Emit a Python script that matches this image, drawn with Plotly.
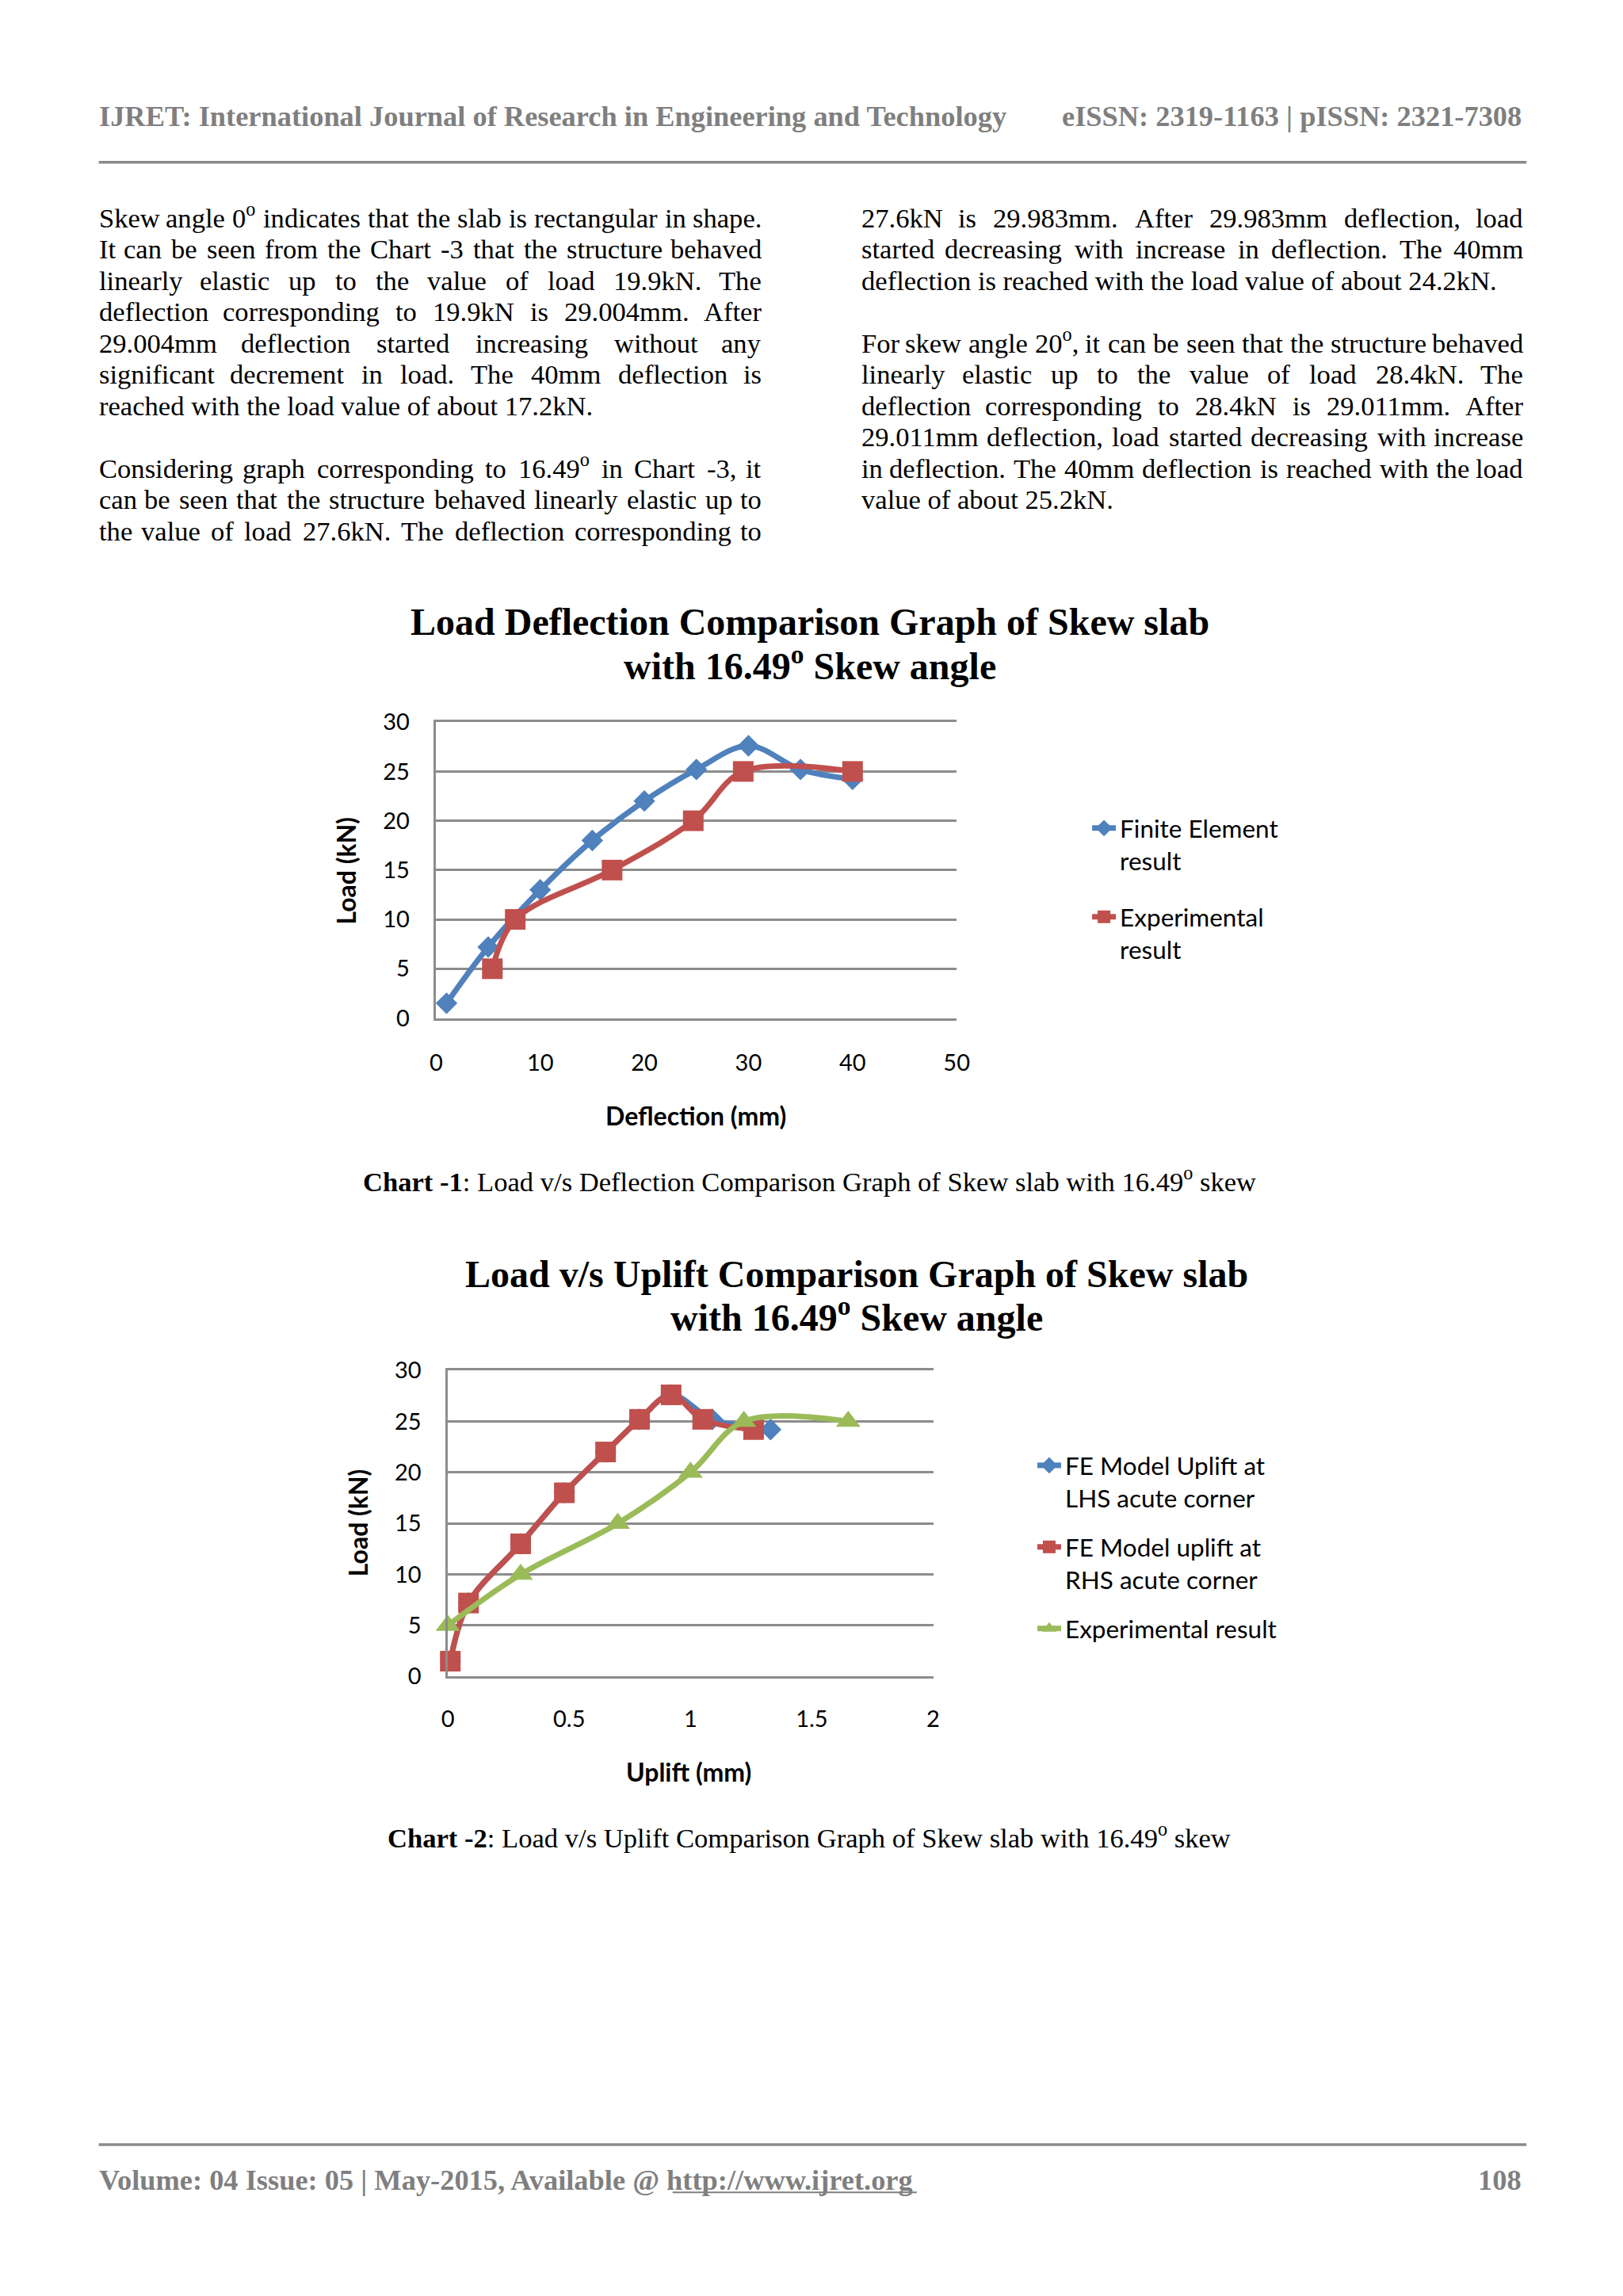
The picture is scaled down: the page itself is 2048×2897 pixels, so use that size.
import plotly.graph_objects as go

# the html page keeps the 8px body margin, so the figure is 16px smaller than the window
W, H = 2032, 2881


def px(x):
    return (x - 8) / W


def py(y):
    return 1 - (y - 8) / H


# ---- Chart -1 : load vs deflection ----
fe_deflection = [1, 5, 10, 15, 20, 25, 30, 35, 40]
fe_load = [1.5, 7.2, 13.0, 18.0, 22.0, 25.2, 27.6, 25.2, 24.2]
exp_deflection = [5.4, 7.6, 16.9, 24.7, 29.5, 40]
exp_load = [5, 10, 15, 20, 25, 25]

# ---- Chart -2 : load vs uplift ----
lhs_uplift = [0.01, 0.085, 0.30, 0.48, 0.65, 0.79, 0.92, 1.09, 1.33]
lhs_load = [1.5, 7.2, 13.0, 18.0, 22.0, 25.2, 27.6, 25.2, 24.2]
rhs_uplift = [0.01, 0.085, 0.30, 0.48, 0.65, 0.79, 0.92, 1.05, 1.26]
rhs_load = [1.5, 7.2, 13.0, 18.0, 22.0, 25.2, 27.6, 25.2, 24.2]
exp_uplift = [0.0, 0.30, 0.70, 1.0, 1.22, 1.65]
exp_uplift_load = [5, 10, 15, 20, 25, 25]

load_ticks = [0, 5, 10, 15, 20, 25, 30]
deflection_ticks = [0, 10, 20, 30, 40, 50]
uplift_ticks = [0, 0.5, 1, 1.5, 2]

# ---- page text ----
left_lines = [
    ("Skew angle 0º indicates that the slab is rectangular in shape.", True),
    ("It can be seen from the Chart -3 that the structure behaved", True),
    ("linearly elastic up to the value of load 19.9kN. The", True),
    ("deflection corresponding to 19.9kN is 29.004mm. After", True),
    ("29.004mm deflection started increasing without any", True),
    ("significant decrement in load. The 40mm deflection is", True),
    ("reached with the load value of about 17.2kN.", False),
    None,
    ("Considering graph corresponding to 16.49º in Chart -3, it", True),
    ("can be seen that the structure behaved linearly elastic up to", True),
    ("the value of load 27.6kN. The deflection corresponding to", True),
]
right_lines = [
    ("27.6kN is 29.983mm. After 29.983mm deflection, load", True),
    ("started decreasing with increase in deflection. The 40mm", True),
    ("deflection is reached with the load value of about 24.2kN.", False),
    None,
    ("For skew angle 20º, it can be seen that the structure behaved", True),
    ("linearly elastic up to the value of load 28.4kN. The", True),
    ("deflection corresponding to 28.4kN is 29.011mm. After", True),
    ("29.011mm deflection, load started decreasing with increase", True),
    ("in deflection. The 40mm deflection is reached with the load", True),
    ("value of about 25.2kN.", False),
]

BLUE = "#4F81BD"
RED = "#C0504D"
GREEN = "#9BBB59"
GRID = "#8C8C8C"
GREY_TEXT = "#7F7F7F"
SERIF = "Liberation Serif"
SANS = "Lato"
BODY = 34.6

# Times advance widths (1/1000 em), used to justify the body text
TIMES_W = {" ": 250, ",": 250, ".": 250, "-": 333, ":": 278, "(": 333, ")": 333, "º": 350,
           "A": 722, "B": 667, "C": 667, "D": 722, "E": 611, "F": 556, "G": 722, "H": 722,
           "I": 333, "J": 389, "K": 722, "L": 611, "M": 889, "N": 722, "O": 722, "P": 556,
           "R": 667, "S": 556, "T": 611, "U": 722, "V": 722, "W": 944,
           "a": 444, "b": 500, "c": 444, "d": 500, "e": 444, "f": 333, "g": 500, "h": 500,
           "i": 278, "j": 278, "k": 500, "l": 278, "m": 778, "n": 500, "o": 500, "p": 500,
           "q": 500, "r": 333, "s": 389, "t": 278, "u": 500, "v": 500, "w": 722, "x": 500,
           "y": 500, "z": 444}


def word_width(w):
    # rendered words come out a little wider than the table says
    return sum(TIMES_W.get(c, 500) for c in w) * BODY / 1000 * 1.012


def markup(s):
    return s.replace("º", "<sup>o</sup>")


annotations = []


def add_text(text, x, y, size, family=SERIF, color="black", xanchor="left", yanchor="middle", angle=0):
    annotations.append(dict(text=text, x=px(x), y=py(y), xref="paper", yref="paper",
                            showarrow=False, xanchor=xanchor, yanchor=yanchor, textangle=angle,
                            font=dict(family=family, size=size, color=color)))


def add_column(lines, x0, x1):
    for i, item in enumerate(lines):
        if item is None:
            continue
        line, justify = item
        ybot = 264 + 40.0 * i + 16
        if not justify:
            add_text(markup(line), x0, ybot, BODY, yanchor="bottom")
            continue
        # justified line: first word on the left edge, last on the right edge,
        # the others centred on their estimated places so width errors spread out
        words = line.split(" ")
        widths = [word_width(w) for w in words]
        gap = (x1 - x0 - sum(widths)) / (len(words) - 1)
        x = x0
        for j, w in enumerate(words):
            if j == 0:
                add_text(markup(w), x0, ybot, BODY, yanchor="bottom")
            elif j == len(words) - 1:
                add_text(markup(w), x1, ybot, BODY, xanchor="right", yanchor="bottom")
            else:
                add_text(markup(w), x + widths[j] / 2, ybot, BODY, xanchor="center", yanchor="bottom")
            x += widths[j] + gap


# header and footer
add_text("<b>IJRET: International Journal of Research in Engineering and Technology</b>",
         116, 129, 36.4, color=GREY_TEXT)
add_text("<b>eISSN: 2319-1163 | pISSN: 2321-7308</b>", 1938, 129, 36.4, color=GREY_TEXT, xanchor="right")
add_text("<b>Volume: 04 Issue: 05 | May-2015, Available @ http://www.ijret.org</b>",
         116, 2765, 36.4, color=GREY_TEXT)
add_text("<b>108</b>", 1938, 2765, 36.4, color=GREY_TEXT, xanchor="right")

add_column(left_lines, 116, 967)
add_column(right_lines, 1090, 1940)

# chart titles
add_text("<b>Load Deflection Comparison Graph of Skew slab</b>", 1027, 804, 48,
         xanchor="center", yanchor="bottom")
add_text("<b>with 16.49<sup>o</sup> Skew angle</b>", 1027, 860, 48, xanchor="center", yanchor="bottom")
add_text("<b>Load v/s Uplift Comparison Graph of Skew slab</b>", 1086, 1637, 48,
         xanchor="center", yanchor="bottom")
add_text("<b>with 16.49<sup>o</sup> Skew angle</b>", 1086, 1692, 48, xanchor="center", yanchor="bottom")

# axis titles
add_text("<b>Load (kN)</b>", 434, 1093, 32, family=SANS, xanchor="center", angle=-90)
add_text("<b>Deflection (mm)</b>", 881, 1405, 32, family=SANS, xanchor="center")
add_text("<b>Load (kN)</b>", 449, 1926, 32, family=SANS, xanchor="center", angle=-90)
add_text("<b>Uplift (mm)</b>", 872, 2244, 32, family=SANS, xanchor="center")

# captions
add_text("<b>Chart -1</b>: Load v/s Deflection Comparison Graph of Skew slab with 16.49<sup>o</sup> skew",
         1026, 1495 + 16, BODY, xanchor="center", yanchor="bottom")
add_text("<b>Chart -2</b>: Load v/s Uplift Comparison Graph of Skew slab with 16.49<sup>o</sup> skew",
         1026, 2333 + 16, BODY, xanchor="center", yanchor="bottom")

line_style = dict(width=7, shape="spline", smoothing=1)

fig = go.Figure()
fig.add_trace(go.Scatter(x=fe_deflection, y=fe_load, mode="lines+markers", name="Finite Element<br>result",
                         line=dict(color=BLUE, **line_style), marker=dict(symbol="diamond", size=21, color=BLUE),
                         xaxis="x", yaxis="y", legend="legend", legendgroup="a", cliponaxis=False))
fig.add_trace(go.Scatter(x=exp_deflection, y=exp_load, mode="lines+markers", name="Experimental<br>result",
                         line=dict(color=RED, **line_style), marker=dict(symbol="square", size=26, color=RED),
                         xaxis="x", yaxis="y", legend="legend", legendgroup="b", cliponaxis=False))
fig.add_trace(go.Scatter(x=lhs_uplift, y=lhs_load, mode="lines+markers", name="FE Model Uplift at<br>LHS acute corner",
                         line=dict(color=BLUE, **line_style), marker=dict(symbol="diamond", size=21, color=BLUE),
                         xaxis="x2", yaxis="y2", legend="legend2", legendgroup="c", cliponaxis=False))
fig.add_trace(go.Scatter(x=rhs_uplift, y=rhs_load, mode="lines+markers", name="FE Model uplift at<br>RHS acute corner",
                         line=dict(color=RED, **line_style), marker=dict(symbol="square", size=26, color=RED),
                         xaxis="x2", yaxis="y2", legend="legend2", legendgroup="d", cliponaxis=False))
fig.add_trace(go.Scatter(x=exp_uplift, y=exp_uplift_load, mode="lines+markers", name="Experimental result",
                         line=dict(color=GREEN, **line_style), marker=dict(symbol="triangle-up", size=27, color=GREEN),
                         xaxis="x2", yaxis="y2", legend="legend2", legendgroup="e", cliponaxis=False))

tick_font = dict(family=SANS, size=29, color="black")
x_common = dict(showgrid=False, showline=True, mirror=True, linecolor=GRID, linewidth=2.5, zeroline=False,
                ticks="", tickfont=tick_font, fixedrange=True)
y_common = dict(range=[0, 30], tickvals=load_ticks, showgrid=True, gridcolor=GRID, gridwidth=2.5,
                showline=True, linecolor=GRID, linewidth=2.5, zeroline=False,
                ticks="", ticklabelstandoff=25, tickfont=tick_font, fixedrange=True)
legend_common = dict(xanchor="left", yanchor="top", valign="top",
                     bgcolor="rgba(0,0,0,0)", font=dict(family=SANS, size=31.5, color="black"))

fig.update_layout(
    width=W, height=H,
    margin=dict(l=0, r=0, t=0, b=0),
    paper_bgcolor="white", plot_bgcolor="white",
    font=dict(family=SANS),
    xaxis=dict(domain=[px(549), px(1214)], range=[0, 50], tickvals=deflection_ticks, anchor="y",
               ticklabelstandoff=29, **x_common),
    yaxis=dict(domain=[py(1281), py(903)], anchor="x", **y_common),
    xaxis2=dict(domain=[px(564), px(1184)], range=[0, 2], tickvals=uplift_ticks, anchor="y2",
                ticklabelstandoff=26, **x_common),
    yaxis2=dict(domain=[py(2122), py(1731)], anchor="x2", **y_common),
    legend=dict(x=px(1382), y=py(1011), tracegroupgap=27, **legend_common),
    legend2=dict(x=px(1312), y=py(1825), tracegroupgap=18, **legend_common),
    annotations=annotations,
    shapes=[
        dict(type="line", xref="paper", yref="paper", x0=px(118), x1=px(1942), y0=py(188), y1=py(188),
             line=dict(color="#8A8A8A", width=3.5)),
        dict(type="line", xref="paper", yref="paper", x0=px(118), x1=px(1942), y0=py(2720), y1=py(2720),
             line=dict(color="#8A8A8A", width=3.5)),
        dict(type="line", xref="paper", yref="paper", x0=px(851), x1=px(1163), y0=py(2781), y1=py(2781),
             line=dict(color=GREY_TEXT, width=2)),
    ],
    showlegend=True,
)

fig.write_html("out.html")
